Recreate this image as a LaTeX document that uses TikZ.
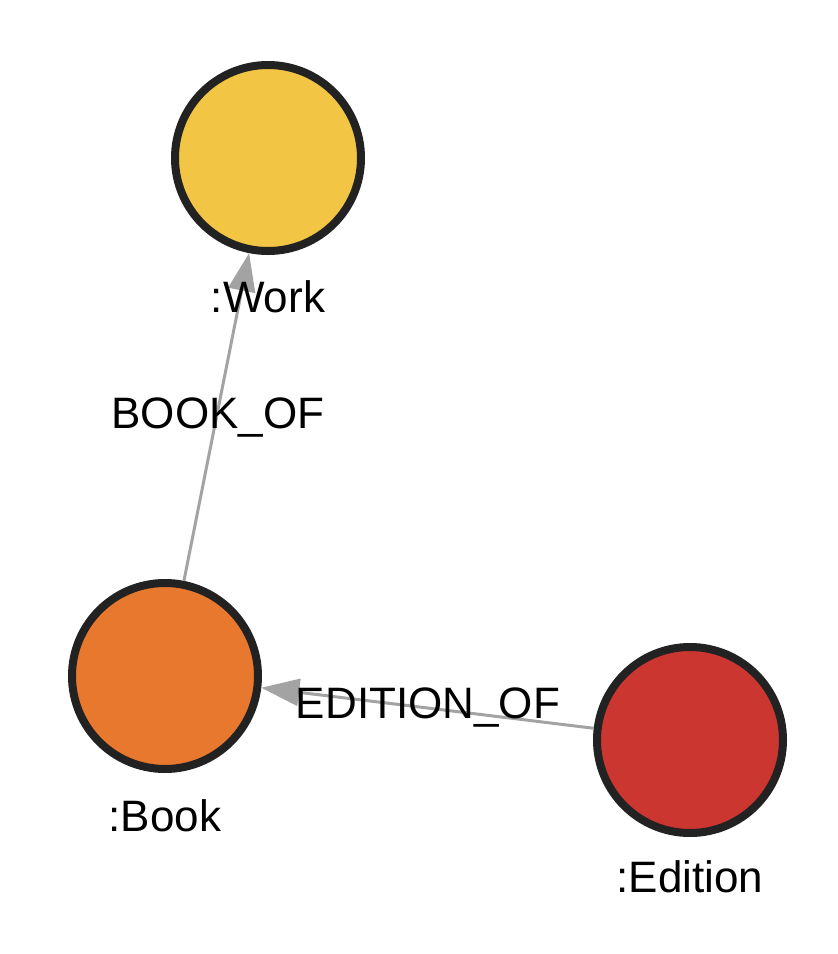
\documentclass[tikz,border=0pt]{standalone}
\usepackage{fontspec}
\setmainfont{Liberation Sans}
\usetikzlibrary{arrows.meta}
\definecolor{workyellow}{HTML}{F3C545}
\definecolor{bookorange}{HTML}{E8782E}
\definecolor{editionred}{HTML}{CB3631}
\definecolor{rimgray}{HTML}{222222}
\definecolor{relgray}{HTML}{A3A3A3}

\begin{document}
\begin{tikzpicture}[x=1pt,y=-1pt,
    entity/.style={circle, draw=rimgray, line width=8pt, minimum size=186pt, inner sep=0pt},
    rel/.style={draw=relgray, line width=3pt, -{Triangle[length=38pt,width=27pt]}},
    txt/.style={anchor=base, inner sep=0pt, font=\fontsize{44}{52}\selectfont}]
        \useasboundingbox (0,0) rectangle (838,954);
        % Draw the three entity circles
        \node[entity, fill=workyellow] (work) at (268,158) {};
        \node[entity, fill=bookorange] (book) at (165,676) {};
        \node[entity, fill=editionred] (edition) at (690,740) {};
        % Relationships
        \draw[rel] (book) -- (work);
        \draw[rel] (edition) -- (book);
        % Labels
        \node[txt] (worklabel) at (268,312) {:Work};
        \node[txt] (booklabel) at (165,831) {:Book};
        \node[txt] (editionlabel) at (690,892) {:Edition};
        \node[txt] (bookof) at (218,428) {BOOK\_OF};
        \node[txt] (editionof) at (428,718) {EDITION\_OF};
    \end{tikzpicture}
\end{document}
